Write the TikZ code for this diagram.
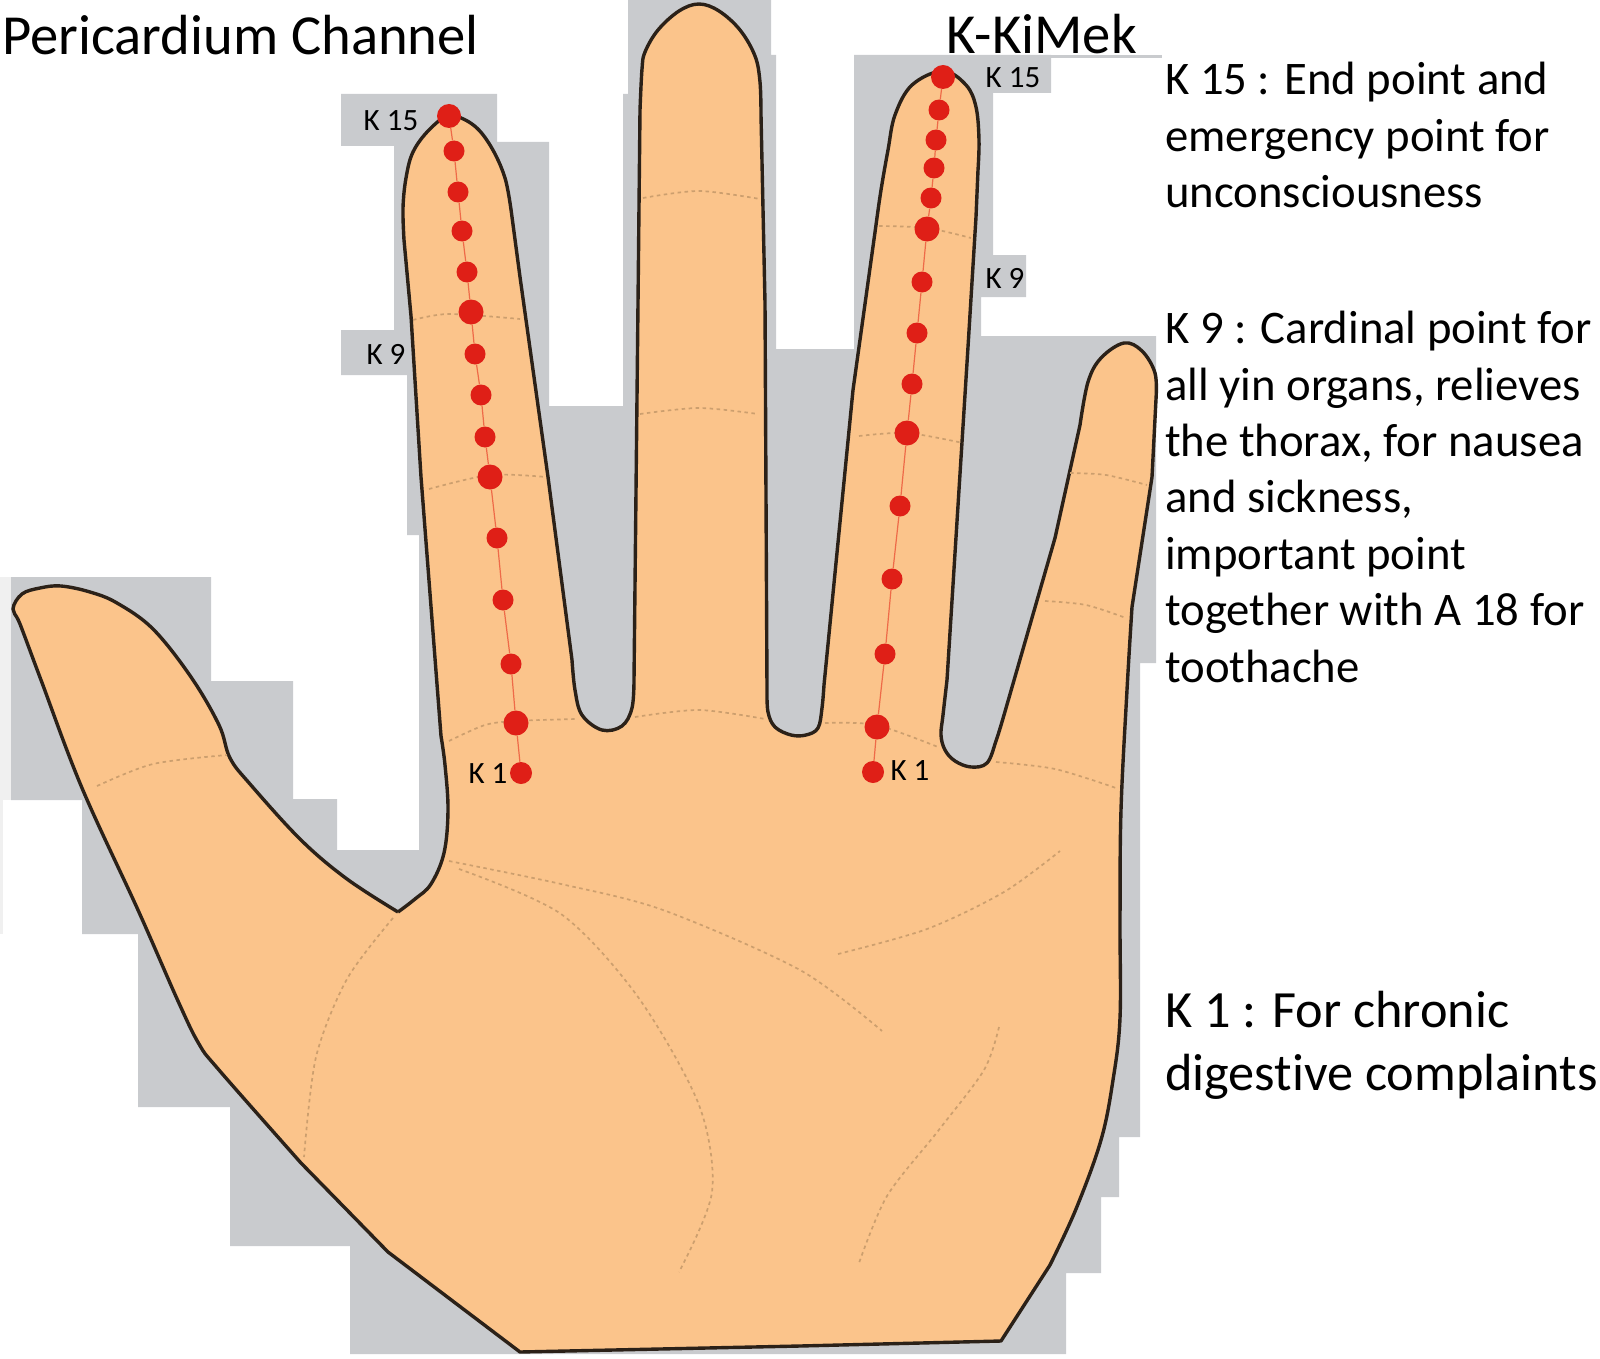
\documentclass[tikz,border=0pt]{standalone}
\usepackage{fontspec}
\setmainfont[Ligatures=NoCommon]{Carlito}
\definecolor{backgrey}{HTML}{C9CBCE}
\definecolor{skin}{HTML}{FBC48B}
\definecolor{outline}{HTML}{2B2118}
\definecolor{creasecol}{HTML}{CC9F6E}
\definecolor{kred}{HTML}{DF1F17}
\definecolor{klinecol}{HTML}{EE6A48}
\tikzset{
  handline/.style={draw=outline,fill=skin,line width=3.4pt,line join=round},
  crease/.style={draw=creasecol,line width=1.7pt,dash pattern=on 3.5pt off 3.5pt},
  kdot/.style={circle,fill=kred,inner sep=0pt},
  kline/.style={draw=klinecol,line width=1.2pt},
  smalllabel/.style={inner sep=0pt,font=\fontsize{31}{32}\selectfont},
  titletext/.style={inner sep=0pt,anchor=base west,font=\fontsize{56.6}{60}\selectfont},
  notetext/.style={inner sep=0pt,anchor=north west,align=left,font=\fontsize{46.7}{56.4}\selectfont},
  bignote/.style={inner sep=0pt,anchor=north west,align=left,font=\fontsize{52.3}{63}\selectfont}
}
\begin{document}
\begin{tikzpicture}[x=1pt,y=-1pt]
\useasboundingbox (0,0) rectangle (1600,1359);

\fill[black!6] (0,577) rectangle (11,800);
\fill[black!6] (0,800) rectangle (3,934);
\fill[backgrey] (341,94) -- (497,94) -- (497,142) -- (549,142) -- (549,406) -- (623,406) -- (623,94)
  -- (628,94) -- (628,0) -- (771,0) -- (771,55) -- (776,55) -- (776,349) -- (854,349) -- (854,55)
  -- (1051,55) -- (1051,93) -- (993,93) -- (993,255) -- (1026,255) -- (1026,297) -- (981,297)
  -- (981,336) -- (1156,336) -- (1156,663) -- (1140,663) -- (1140,1137) -- (1119,1137)
  -- (1119,1197) -- (1101,1197) -- (1101,1273) -- (1066,1273) -- (1066,1354) -- (350,1354)
  -- (350,1246) -- (230,1246) -- (230,1107) -- (138,1107) -- (138,934) -- (82,934) -- (82,800)
  -- (11,800) -- (11,577) -- (211,577) -- (211,681) -- (293,681) -- (293,799) -- (337,799)
  -- (337,850) -- (419,850) -- (419,535) -- (407,535) -- (407,375) -- (341,375) -- (341,330)
  -- (394,330) -- (394,146) -- (341,146) -- cycle;
\fill[backgrey] (1051,55) rectangle (1162,58);

\draw[handline] plot[smooth,tension=.6] coordinates {(398,912) (415,899) (431,884) (444,853) (448,810) (445,765) (441,736)}
  -- (421,477) -- (411,316)
  -- plot[smooth,tension=.6] coordinates {(404,240) (403,208) (406,178) (413,152) (429,130) (449,116) (472,124) (490,145) (505,178) (512,217)}
  -- (520,277) -- (548,477)
  -- plot[smooth,tension=.6] coordinates {(572,660) (575,690) (582,715) (602,730) (622,726) (632,708) (634,680)}
  -- (638,303)
  -- plot[smooth,tension=.6] coordinates {(640,110) (642,69) (645,52) (658,30) (679,11) (699,4) (719,11) (740,30) (755,56) (760,82) (761,115)}
  -- (765,303)
  -- plot[smooth,tension=.6] coordinates {(767,690) (768,712) (775,727) (791,735) (806,735) (818,728) (822,708) (824,685)}
  -- (853,390)
  -- plot[smooth,tension=.6] coordinates {(876,225) (881,190) (888,150) (895,115) (912,85) (943,71) (966,85) (976,107) (979,140) (978,170)}
  -- (976,217) -- (968,347)
  -- plot[smooth,tension=.6] coordinates {(947,680) (943,715) (941,735) (945,750) (955,761) (971,767) (987,763) (996,741) (1004,715)}
  -- (1055,538)
  -- plot[smooth,tension=.6] coordinates {(1080,425) (1088,382) (1101,358) (1124,343) (1142,351) (1155,373) (1156,399)}
  -- (1152,477)
  -- plot[smooth,tension=.6] coordinates {(1132,607) (1127,690) (1121,810) (1120,920) (1120,1018) (1113,1080) (1101,1140) (1076,1209) (1050,1265)}
  -- (1001,1341) -- (800,1346) -- (520,1352) -- (388,1252)
  -- plot[smooth,tension=.6] coordinates {(301,1163) (219,1070) (199,1044) (178,1001) (138,910) (82,788) (41,680) (20,624) (13,609) (22,594) (40,588) (61,586) (90,592) (117,603) (153,629) (191,677) (219,725) (230,758) (250,784) (301,840) (347,879) (398,912)};

\draw[crease] plot[smooth] coordinates {(413,320) (449,314) (520,319)};
\draw[crease] plot[smooth] coordinates {(429,489) (490,475) (546,477)};
\draw[crease] plot[smooth] coordinates {(643,198) (699,191) (760,199)};
\draw[crease] plot[smooth] coordinates {(640,414) (699,408) (758,414)};
\draw[crease] plot[smooth] coordinates {(879,226) (927,228) (971,238)};
\draw[crease] plot[smooth] coordinates {(859,436) (907,433) (963,443)};
\draw[crease] plot[smooth] coordinates {(1070,473) (1106,475) (1147,485)};
\draw[crease] plot[smooth] coordinates {(1045,601) (1086,605) (1126,618)};
\draw[crease] plot[smooth] coordinates {(449,741) (485,725) (516,721) (576,719)};
\draw[crease] plot[smooth] coordinates {(635,717) (699,710) (765,719)};
\draw[crease] plot[smooth] coordinates {(825,723) (876,725) (938,747)};
\draw[crease] plot[smooth] coordinates {(996,762) (1055,769) (1116,788)};
\draw[crease] plot[smooth] coordinates {(97,786) (153,764) (227,755)};
\draw[crease] plot[smooth] coordinates {(449,861) (561,884) (663,910) (800,970) (882,1031)};
\draw[crease] plot[smooth] coordinates {(459,869) (561,914) (638,997) (699,1105) (712,1192) (679,1272)};
\draw[crease] plot[smooth] coordinates {(393,918) (347,979) (316,1057) (304,1157)};
\draw[crease] plot[smooth] coordinates {(838,954) (927,929) (1004,892) (1060,851)};
\draw[crease] plot[smooth] coordinates {(999,1027) (984,1070) (938,1131) (887,1196) (859,1263)};

\foreach \px/\py/\sz [count=\i] in {449/116/24,454/151/21,458/192/21,462/231/21,467/272/21,471/312/25,475/354/21,481/395/21,485/437/21,490/477/25,497/538/21,503/600/21,511/664/21,516/723/25,521/773/22}
  \node[kdot,minimum size=\sz pt] (pc\i) at (\px,\py) {};
\foreach \px/\py/\sz [count=\i] in {943/77/24,939/110/21,936/140/21,934/168/21,931/198/21,927/229/25,922/282/21,917/333/21,912/384/21,907/433/25,900/506/21,892/579/21,885/654/21,877/727/25,873/772/22}
  \node[kdot,minimum size=\sz pt] (kk\i) at (\px,\py) {};
\foreach \i [remember=\i as \j (initially 1)] in {2,...,15} {
  \draw[kline] (pc\j) -- (pc\i);
  \draw[kline] (kk\j) -- (kk\i);
}

\node[smalllabel] (pctop) at (391,121) {K 15};
\node[smalllabel] (pcmid) at (386,354) {K 9};
\node[smalllabel] (pcbot) at (488,774) {K 1};
\node[smalllabel] (kktop) at (1013,78) {K 15};
\node[smalllabel] (kkmid) at (1005,278) {K 9};
\node[smalllabel] (kkbot) at (910,771) {K 1};

\node[titletext] (pctitle) at (2,55) {Pericardium Channel};
\node[titletext] (kktitle) at (946,54) {K-KiMek};
\node[notetext] (topnote) at (1165,62) {K 15 : End point and\\emergency point for\\unconsciousness};
\node[notetext] (midnote) at (1165,311) {K 9 : Cardinal point for\\all yin organs, relieves\\the thorax, for nausea\\and sickness,\\important point\\together with A 18 for\\toothache};
\node[bignote] (botnote) at (1165,991) {K 1 : For chronic\\digestive complaints};

\end{tikzpicture}
\end{document}
